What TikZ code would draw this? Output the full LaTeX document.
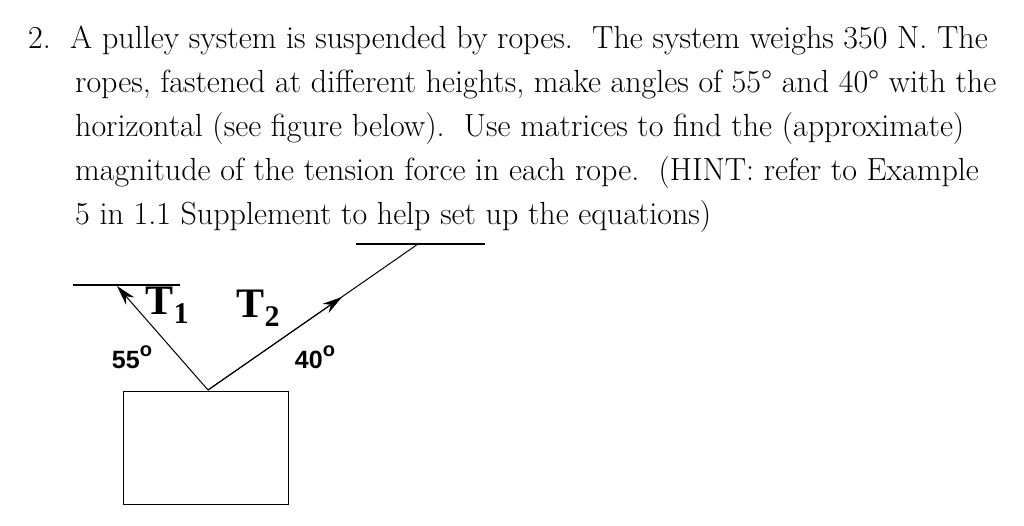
\documentclass[tikz,border=0pt]{standalone}
\usepackage{fontspec}
\newfontfamily\tfont{Liberation Serif}
\newfontfamily\sfont{Liberation Sans}
\usetikzlibrary{arrows.meta}
\begin{document}
\begin{tikzpicture}[x=1pt,y=-1pt,
  txt/.style={anchor=base west,inner sep=0pt,font=\fontsize{32}{44}\selectfont},
  rope/.style={line width=1pt},
  tip/.style={-{Stealth[length=20pt,width=11pt]}},
  lab/.style={inner sep=0pt,font=\tfont\bfseries\fontsize{42}{42}\selectfont},
  ang/.style={inner sep=0pt,font=\sfont\bfseries\fontsize{25}{25}\selectfont}]
\useasboundingbox (0,0) rectangle (1024,525);
\node[txt] (l1) at (28,48) {2.\ \ A pulley system is suspended by ropes.\ \ The system weighs 350 N. The};
\node[txt] (l2) at (75,92) {ropes, fastened at different heights, make angles of 55° and 40° with the};
\node[txt] (l3) at (75,136) {horizontal (see figure below).\ \ Use matrices to find the (approximate)};
\node[txt] (l4) at (75,180) {magnitude of the tension force in each rope.\ \ (HINT: refer to Example};
\node[txt] (l5) at (75,224) {5 in 1.1 Supplement to help set up the equations)};
\coordinate (a1) at (73,285); \coordinate (a2) at (180,285);
\coordinate (b1) at (356,244); \coordinate (b2) at (485,244);
\coordinate (t1) at (117,286); \coordinate (t2) at (418,244);
\coordinate (ap) at (208,390);
\draw[line width=1.2pt] (a1) -- (a2);
\draw[line width=1.2pt] (b1) -- (b2);
\draw[rope,tip] (ap) -- (t1);
\draw[rope] (ap) -- (t2);
\draw[rope,tip] (ap) -- (342,297);
\node[draw,line width=1pt,minimum width=165pt,minimum height=113pt,anchor=north west,inner sep=0pt] (box) at (123,391) {};
\node[lab] (T1) at (167,305) {T\raisebox{-9pt}{\fontsize{30}{30}\selectfont 1}};
\node[lab] (T2) at (258,308) {T\raisebox{-9pt}{\fontsize{30}{30}\selectfont 2}};
\node[ang] (A55) at (132,357) {55\raisebox{12pt}{\fontsize{20}{20}\selectfont o}};
\node[ang] (A40) at (315,357) {40\raisebox{12pt}{\fontsize{20}{20}\selectfont o}};
\end{tikzpicture}
\end{document}
